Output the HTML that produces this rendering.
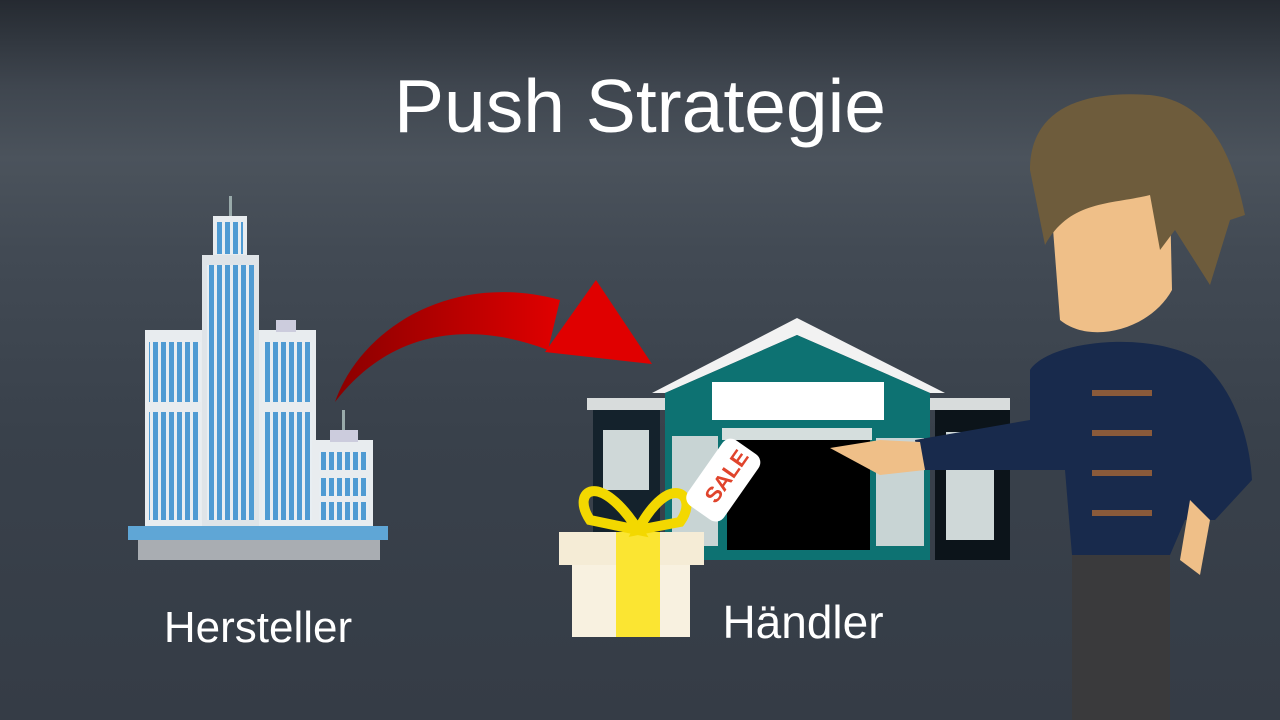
<!DOCTYPE html>
<html><head><meta charset="utf-8"><style>
html,body{margin:0;padding:0;}
body{width:1280px;height:720px;overflow:hidden;background:linear-gradient(180deg,#252a31 0%,#3f464f 12%,#4b535c 22%,#424a54 35%,#39414b 60%,#353c46 100%);font-family:"Liberation Sans",sans-serif;}
svg{position:absolute;left:0;top:0;}
</style></head><body>
<svg width="1280" height="720" viewBox="0 0 1280 720">
<defs>
<linearGradient id="red" x1="0" x2="1"><stop offset="0" stop-color="#8a0000"/><stop offset="1" stop-color="#e00000"/></linearGradient>
<pattern id="stripes" width="8" height="10" patternUnits="userSpaceOnUse"><rect width="8" height="10" fill="#e8eef2"/><rect x="1" width="5" height="10" fill="#4f9bd3"/></pattern>
</defs>
<text x="640" y="132" text-anchor="middle" fill="#fff" font-size="75">Push Strategie</text>
<text x="258" y="642" text-anchor="middle" fill="#fff" font-size="44">Hersteller</text>
<text x="803" y="638" text-anchor="middle" fill="#fff" font-size="46">Händler</text>

<rect x="229" y="196" width="3" height="22" fill="#9aa"/>
<rect x="213" y="216" width="34" height="40" fill="#e8ecef"/>
<rect x="217" y="222" width="26" height="32" fill="url(#stripes)"/>
<rect x="145" y="330" width="60" height="196" fill="#e8ecef"/>
<rect x="149" y="342" width="52" height="60" fill="url(#stripes)"/>
<rect x="149" y="412" width="52" height="108" fill="url(#stripes)"/>
<rect x="258" y="330" width="58" height="196" fill="#e8ecef"/>
<rect x="276" y="320" width="20" height="12" fill="#ccd"/>
<rect x="262" y="342" width="50" height="60" fill="url(#stripes)"/>
<rect x="262" y="412" width="50" height="108" fill="url(#stripes)"/>
<rect x="202" y="255" width="57" height="271" fill="#dfe4e8"/>
<rect x="207" y="265" width="47" height="255" fill="url(#stripes)"/>
<rect x="342" y="410" width="3" height="22" fill="#9aa"/>
<rect x="315" y="440" width="58" height="86" fill="#e8ecef"/>
<rect x="330" y="430" width="28" height="12" fill="#ccd"/>
<rect x="319" y="452" width="50" height="18" fill="url(#stripes)"/>
<rect x="319" y="478" width="50" height="18" fill="url(#stripes)"/>
<rect x="319" y="502" width="50" height="18" fill="url(#stripes)"/>
<rect x="128" y="526" width="260" height="14" fill="#5fa6d6"/>
<rect x="138" y="540" width="242" height="20" fill="#a9adb2"/>

<path d="M335,402 C360,330 450,270 560,300 L548,350 C470,320 390,330 335,402 Z" fill="url(#red)"/>
<polygon points="545,352 596,280 652,364" fill="#e00000"/>

<rect x="587" y="398" width="78" height="12" fill="#d8dcdc"/>
<rect x="593" y="410" width="67" height="150" fill="#14222c"/>
<rect x="930" y="398" width="80" height="12" fill="#d8dcdc"/>
<rect x="935" y="410" width="75" height="150" fill="#0c141a"/>
<rect x="603" y="430" width="46" height="60" fill="#cfd8d8"/>
<rect x="946" y="432" width="48" height="108" fill="#cfd8d8"/>
<polygon points="652,393 797,318 945,393 930,393 797,335 665,393" fill="#f2f2f2"/>
<polygon points="665,393 797,335 930,393 930,560 665,560" fill="#0d7272"/>
<rect x="712" y="382" width="172" height="38" fill="#fff"/>
<rect x="722" y="428" width="150" height="12" fill="#d5dedd"/>
<rect x="727" y="440" width="143" height="110" fill="#000"/>
<rect x="672" y="436" width="46" height="110" fill="#c8d4d4"/>
<rect x="876" y="438" width="48" height="108" fill="#c8d4d4"/>

<rect x="572" y="563" width="118" height="74" fill="#f8f1e0"/>
<rect x="559" y="532" width="145" height="33" fill="#f5ecd6"/>
<rect x="616" y="532" width="44" height="105" fill="#fbe532"/>
<path d="M638,530 C600,470 570,490 590,520 Z M638,530 C670,470 700,495 680,522 Z" fill="none" stroke="#f3d800" stroke-width="10"/>
<g transform="rotate(-55 720 490)"><rect x="690" y="465" width="80" height="44" rx="10" fill="#fff"/><text x="735" y="495" text-anchor="middle" fill="#e0442c" font-size="22" font-weight="bold">SALE</text></g>

<rect x="1072" y="550" width="98" height="170" fill="#3a3a3c"/>
<path d="M1030,370 C1050,340 1150,330 1200,360 C1235,390 1250,440 1252,480 L1215,520 L1185,520 L1170,555 L1072,555 L1065,470 L920,470 L915,440 L1030,420 Z" fill="#182a4c"/>
<path d="M1190,500 L1210,520 L1200,575 L1180,560 Z" fill="#efbf88"/>
<path d="M830,448 L880,440 L920,442 L925,470 L880,475 Z" fill="#efbf88"/>
<path d="M1050,190 C1060,150 1150,150 1170,200 L1172,290 C1150,330 1090,345 1060,320 Z" fill="#efbf88"/>
<path d="M1030,170 C1030,110 1080,90 1150,95 C1200,100 1230,140 1245,215 L1230,220 L1210,285 L1175,230 L1160,250 L1150,195 C1110,205 1070,200 1045,245 Z" fill="#6e5c3c"/>
<g fill="#8a5a3a"><rect x="1092" y="390" width="60" height="6"/><rect x="1092" y="430" width="60" height="6"/><rect x="1092" y="470" width="60" height="6"/><rect x="1092" y="510" width="60" height="6"/></g>
</svg>
</body></html>
